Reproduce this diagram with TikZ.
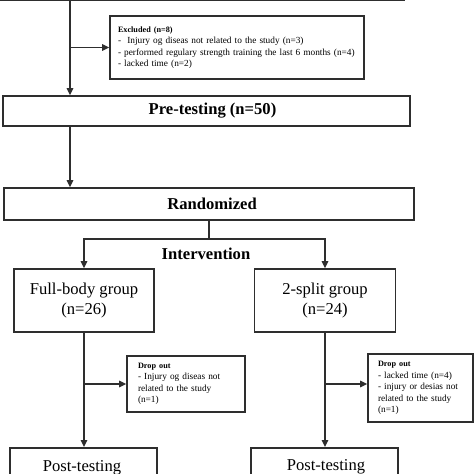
\documentclass[tikz,border=0pt]{standalone}
\usepackage{fontspec}
\setmainfont{Liberation Serif}
\usetikzlibrary{arrows.meta}
\definecolor{ln}{HTML}{2E2E2E}
\tikzset{
  boxnode/.style={draw=ln, line width=1.6pt, rectangle, inner sep=0pt},
  bigtxt/.style={font=\fontsize{16.6}{20}\selectfont},
  bigbold/.style={font=\fontsize{16.6}{20}\selectfont\bfseries},
  smalltxt/.style={font=\fontsize{9.3}{11.4}\selectfont, align=left, text=black},
  arr/.style={draw=ln, line width=1.4pt, -{Triangle[length=7pt,width=6.5pt]}},
  conn/.style={draw=ln, line width=1.4pt},
}
\newcommand{\headtxt}[1]{{\fontsize{8.2}{11.4}\selectfont\bfseries #1}}
\begin{document}
\begin{tikzpicture}[x=1pt,y=-1pt]
\useasboundingbox (0,0) rectangle (474,474);
\fill[white] (0,0) rectangle (474,474);

% top (cut-off) box
\node[draw=ln, line width=2.6pt, rectangle, inner sep=0pt, minimum width=410pt, minimum height=40pt, anchor=south west] (top) at (-8,1.3) {};

\node[boxnode, minimum width=407pt, minimum height=30pt, bigbold] (pre) at (206.5,111) {\hspace*{12pt}Pre-testing (n=50)};

\node[boxnode, minimum width=254pt, minimum height=63pt, smalltxt, text width=238pt, inner xsep=8pt] (excl) at (237,47.5)
  {\headtxt{Excluded (n=8)}\\
   -\ \ Injury og diseas not related to the study (n=3)\\
   - performed regulary strength training the last 6 months (n=4)\\
   - lacked time (n=2)};

\node[boxnode, minimum width=410pt, minimum height=32pt, bigbold] (rand) at (209,204) {\hspace*{6pt}Randomized};

\node[bigbold, inner sep=1pt] (interv) at (206,254) {Intervention};

\node[boxnode, minimum width=140pt, minimum height=63pt, bigtxt, align=center] (full) at (84,300.5) {Full-body group\\(n=26)};
\node[boxnode, minimum width=141pt, minimum height=63pt, bigtxt, align=center] (split) at (325,300.5) {2-split group\\(n=24)};

\node[boxnode, minimum width=118pt, minimum height=56pt, smalltxt, text width=96pt, inner xsep=11pt] (drop1) at (186,384)
  {\headtxt{Drop out}\\
   - Injury og diseas not\\
   related to the study\\
   (n=1)};
\node[boxnode, minimum width=105pt, minimum height=68pt, smalltxt, text width=85pt, inner xsep=10pt] (drop2) at (420.5,388)
  {\headtxt{Drop out}\\
   - lacked time (n=4)\\
   - injury or desias not\\
   related to the study\\
   (n=1)};

\node[boxnode, minimum width=147pt, minimum height=63pt, anchor=north] (post1) at (83.5,447) {};
\node[boxnode, minimum width=147pt, minimum height=63pt, anchor=north] (post2) at (324.5,447) {};
\node[bigtxt, anchor=base] (post1t) at (82,471) {Post-testing};
\node[bigtxt, anchor=base] (post2t) at (326,470) {Post-testing};

% connectors
\coordinate (c1) at (70,0);
\coordinate (bl) at (84,239);
\coordinate (br) at (325,239);
\draw[arr] (c1 |- top.south) -- (c1 |- pre.north);
\draw[arr] (c1 |- excl.west) -- (excl.west);
\draw[arr] (c1 |- pre.south) -- (c1 |- rand.north);
\draw[conn] (rand.south) -- (rand.south |- bl);
\draw[conn] ([xshift=-0.7pt]bl) -- ([xshift=0.7pt]br);
\draw[arr] (bl) -- (bl |- full.north);
\draw[arr] (br) -- (br |- split.north);
\draw[arr] (full.south) -- (full.south |- post1.north);
\draw[arr] (full.south |- drop1.west) -- (drop1.west);
\draw[arr] (split.south) -- (split.south |- post2.north);
\draw[arr] (split.south |- 0,384) -- (drop2.west |- 0,384);
\end{tikzpicture}
\end{document}
